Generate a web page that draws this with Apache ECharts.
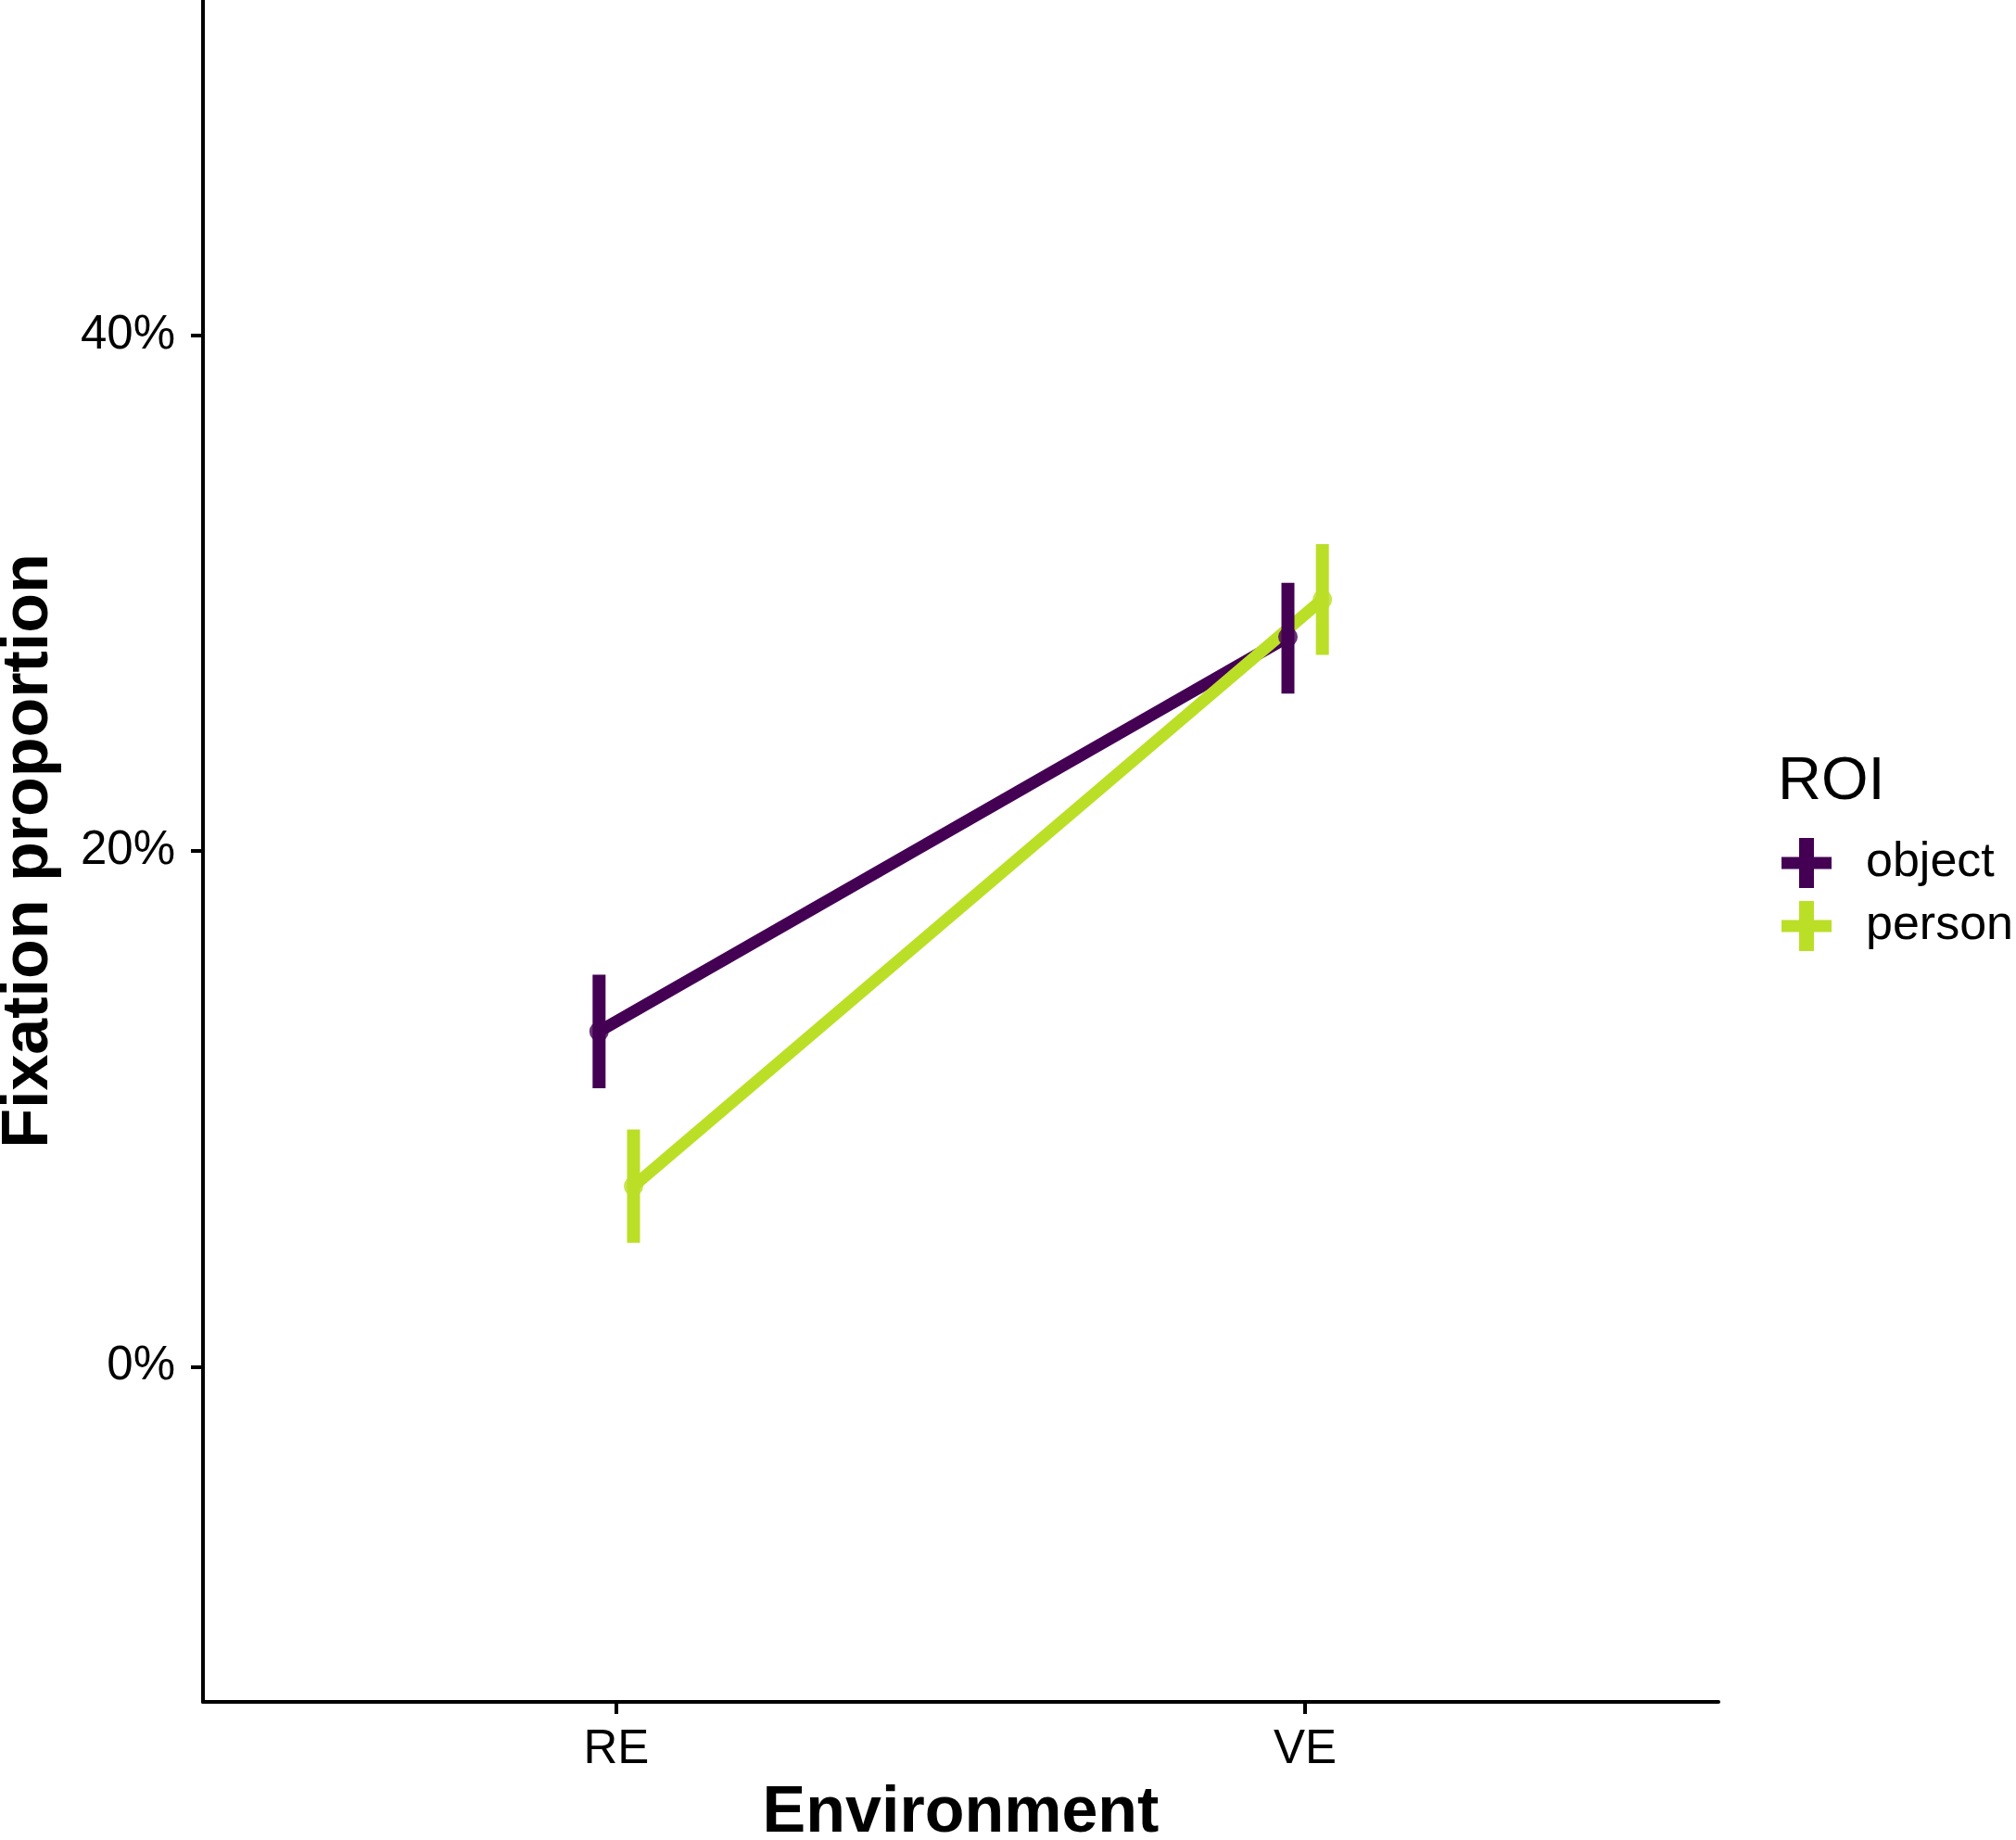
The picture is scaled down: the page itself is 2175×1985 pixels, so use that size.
<!DOCTYPE html>
<html>
<head>
<meta charset="utf-8">
<script src="https://cdn.jsdelivr.net/npm/echarts@6/dist/echarts.min.js"></script>
<style>
html,body{margin:0;padding:0;background:#fff;overflow:hidden;}
#chart{width:2175px;height:1985px;}
</style>
</head>
<body>
<div id="chart"></div>
<script>
// ---- data ----
const categories = ['RE', 'VE'];
const roiGroups = ['object', 'person'];
const objectMean = [13.0, 28.3];
const objectLow  = [10.8, 26.1];
const objectHigh = [15.2, 30.4];
const personMean = [7.0, 29.75];
const personLow  = [4.8, 27.6];
const personHigh = [9.2, 31.9];
const yTicks = [0, 20, 40];

// ---- style ----
const FONT = 'Liberation Sans, Arial, Helvetica, sans-serif';
const colors = { object: '#440154', person: '#BBDF27' };
const dodge = { object: -0.025, person: 0.025 };
const groups = {
  object: { mean: objectMean, low: objectLow, high: objectHigh },
  person: { mean: personMean, low: personLow, high: personHigh }
};

const chart = echarts.init(document.getElementById('chart'), null, { renderer: 'canvas' });

const series = [];
// lines
roiGroups.forEach(g => {
  series.push({
    name: g, type: 'line', z: 2,
    data: categories.map((c, i) => [i + 1 + dodge[g], groups[g].mean[i]]),
    showSymbol: false, symbol: 'none',
    lineStyle: { color: colors[g], width: 13, cap: 'butt' },
    itemStyle: { color: colors[g] },
    silent: true
  });
});
// points
roiGroups.forEach(g => {
  series.push({
    name: g, type: 'scatter', z: 3,
    data: categories.map((c, i) => [i + 1 + dodge[g], groups[g].mean[i]]),
    symbol: 'circle', symbolSize: 21,
    itemStyle: { color: colors[g] },
    silent: true
  });
});
// error bars
roiGroups.forEach(g => {
  series.push({
    name: g, type: 'custom', z: 4,
    data: categories.map((c, i) => [i + 1 + dodge[g], groups[g].low[i], groups[g].high[i]]),
    encode: { x: 0, y: [1, 2] },
    renderItem: function (params, api) {
      const x = api.value(0);
      const lo = api.coord([x, api.value(1)]);
      const hi = api.coord([x, api.value(2)]);
      return {
        type: 'line',
        shape: { x1: lo[0], y1: lo[1], x2: hi[0], y2: hi[1] },
        style: { stroke: colors[g], lineWidth: 14, lineCap: 'butt' }
      };
    },
    itemStyle: { color: colors[g] },
    silent: true
  });
});

const plusIcon = 'path://M19,0H35V20.5H54V33.5H35V54H19V33.5H0V20.5H19Z';

chart.setOption({
  animation: false,
  backgroundColor: '#ffffff',
  grid: { left: 219, right: 321, top: 0, bottom: 149, containLabel: false, outerBoundsMode: 'none' },
  xAxis: {
    type: 'value', min: 0.4, max: 2.6,
    name: 'Environment', nameLocation: 'middle', nameGap: 86,
    nameTextStyle: { fontFamily: FONT, fontSize: 70, fontWeight: 'bold', color: '#000' },
    axisLine: { show: true, onZero: false, lineStyle: { color: '#000', width: 4 } },
    axisTick: { show: true, length: 13, customValues: [1, 2], lineStyle: { color: '#000', width: 4 } },
    axisLabel: {
      customValues: [1, 2], margin: 26,
      fontFamily: FONT, fontSize: 51, color: '#000',
      formatter: v => categories[Math.round(v) - 1] || ''
    },
    splitLine: { show: false }
  },
  yAxis: {
    type: 'value', min: -13, max: 53,
    name: 'Fixation proportion', nameLocation: 'middle', nameGap: 152,
    nameTextStyle: { fontFamily: FONT, fontSize: 70, fontWeight: 'bold', color: '#000' },
    axisLine: { show: true, onZero: false, lineStyle: { color: '#000', width: 4 } },
    axisTick: { show: true, length: 13, customValues: yTicks, lineStyle: { color: '#000', width: 4 } },
    axisLabel: {
      customValues: yTicks, margin: 30,
      fontFamily: FONT, fontSize: 51, color: '#000',
      formatter: v => v + '%'
    },
    splitLine: { show: false }
  },
  legend: {
    left: 1922, top: 904, orient: 'vertical', padding: 0,
    itemWidth: 54, itemHeight: 54, itemGap: 14,
    data: roiGroups.map(g => ({ name: g, icon: plusIcon, itemStyle: { color: colors[g] } })),
    textStyle: { fontFamily: FONT, fontSize: 52, color: '#000', lineHeight: 54, padding: [0, 0, 0, 32] },
    selectedMode: false
  },
  graphic: [{
    type: 'text', left: 1918, top: 812,
    style: { text: 'ROI', font: '65px ' + FONT, fill: '#000' }
  }],
  series: series
});
</script>
</body>
</html>
